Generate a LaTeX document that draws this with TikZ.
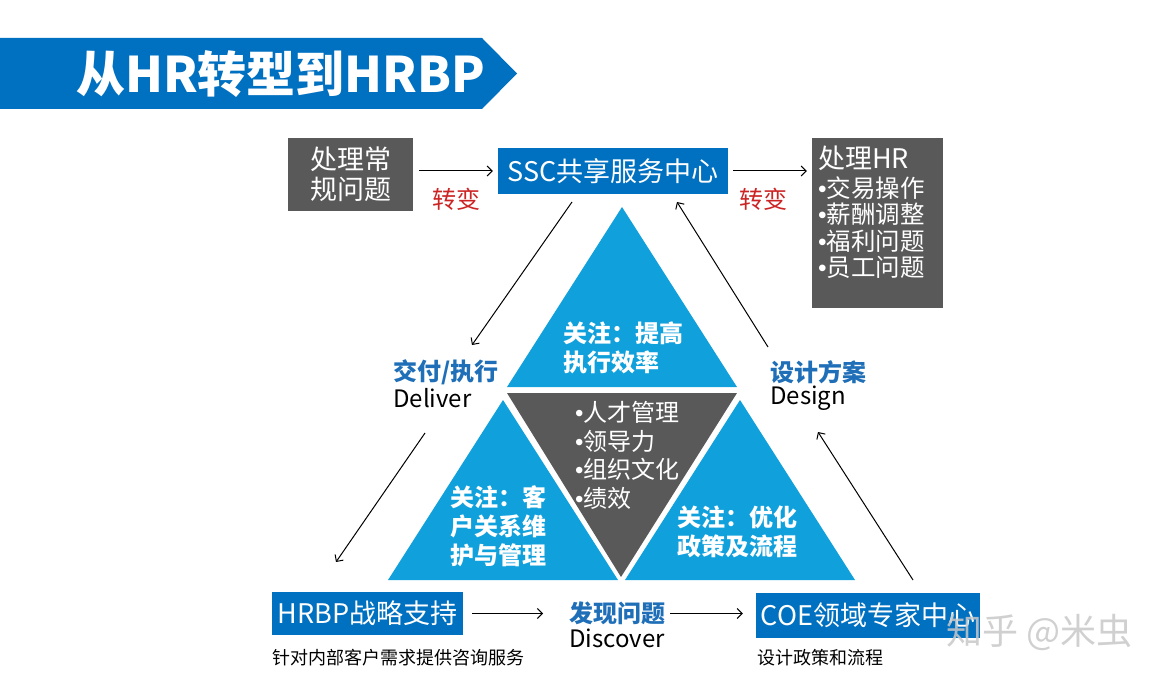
\documentclass[tikz,border=0pt]{standalone}
\usepackage{fontspec}
\setmainfont{Noto Sans CJK SC}
\newfontfamily\bulletfont{Liberation Sans}
\newcommand{\bul}{{\bulletfont •}}
\usetikzlibrary{arrows.meta,positioning,calc}
\definecolor{hrblue}{RGB}{0,112,192}
\definecolor{triblue}{RGB}{16,160,220}
\definecolor{boxgray}{RGB}{89,89,89}
\definecolor{turnred}{RGB}{204,36,36}
\definecolor{tagblue}{RGB}{31,111,184}
\definecolor{markgray}{RGB}{200,200,200}

\tikzset{
  flow/.style={-{Straight Barb[length=5pt,width=10pt]}, black, line width=1pt},
  bluebox/.style={fill=hrblue, text=white, inner sep=0pt, font=\fontsize{27}{30}\selectfont},
  graybox/.style={fill=boxgray, text=white, inner sep=0pt, font=\fontsize{27}{30}\selectfont},
  tritext/.style={anchor=west, align=left, text=white, inner sep=0pt, font=\fontsize{24}{29}\selectfont\bfseries},
  tag/.style={anchor=west, inner sep=0pt, text=tagblue, font=\fontsize{24}{26}\selectfont\bfseries},
  entext/.style={anchor=west, inner sep=0pt, text=black, font=\fontsize{24}{26}\selectfont},
  turn/.style={inner sep=0pt, text=turnred, font=\fontsize{24}{26}\selectfont},
  note/.style={anchor=west, inner sep=0pt, text=black, font=\fontsize{18}{20}\selectfont}
}

\begin{document}
\begin{tikzpicture}[x=1pt, y=-1pt]
  \useasboundingbox (0,0) rectangle (1161,684);

  % Title banner
  \fill[hrblue] (0,38) -- (482,38) -- (517,73.5) -- (482,109) -- (0,109) -- cycle;
  \node[anchor=west, inner sep=0pt, text=white, font=\fontsize{49}{55}\selectfont\bfseries] (title) at (76,74) {从HR转型到HRBP};

  % Pyramid: three blue triangles and the gray core
  \foreach \tx/\ty in {622/207, 503/400, 740/400} {
    \fill[triblue] (\tx,\ty) -- ++(115,180) -- ++(-230,0) -- cycle;
  }
  \fill[boxgray] (507,393) -- (737,393) -- (621,577) -- cycle;

  \node[tritext] (topfocus) at (563,347.5) {关注：提高\\执行效率};
  \node[tritext] (leftfocus) at (450,526.5) {关注：客\\户关系维\\护与管理};
  \node[tritext] (rightfocus) at (677,531.5) {关注：优化\\政策及流程};
  \node[anchor=west, align=left, inner sep=0pt, text=white, font=\fontsize{24}{28.5}\selectfont] (core) at (575,455.5)
    {\bul 人才管理\\\bul 领导力\\\bul 组织文化\\\bul 绩效};

  % Top row
  \node[graybox, minimum width=125pt, minimum height=73pt, align=center] (routine) at (350.5,174.5) {处理常\\规问题};
  \node[bluebox, minimum width=230pt, minimum height=46pt] (ssc) at (613,171) {SSC共享服务中心};
  \node[graybox, minimum width=131pt, minimum height=170pt] (hrwork) at (877.5,223) {};
  \node[anchor=north west, align=left, inner sep=0pt, text=white, font=\fontsize{24.5}{26.5}\selectfont]
    (hrlist) at ([xshift=6pt, yshift=-8pt]hrwork.north west)
    {{\fontsize{27}{30}\selectfont 处理HR}\\[2pt]\bul 交易操作\\\bul 薪酬调整\\\bul 福利问题\\\bul 员工问题};

  \draw[flow, shorten <=6pt, shorten >=5pt] (routine.east |- ssc) -- (ssc.west);
  \draw[flow, shorten <=5pt, shorten >=5pt] (ssc.east) -- (ssc.east -| hrwork.west);
  \node[turn] (turnL) at (456,199) {转变};
  \node[turn] (turnR) at (763,199) {转变};

  % Side labels
  \node[tag] (deliverCn) at (393,372) {交付/执行};
  \node[entext] (deliverEn) at (393,398) {Deliver};
  \node[tag] (designCn) at (770,372) {设计方案};
  \node[entext] (designEn) at (770,398) {Design};

  % Bottom row
  \node[bluebox, minimum width=191pt, minimum height=43pt] (hrbp) at (367.5,613.5) {HRBP战略支持};
  \node[bluebox, minimum width=224pt, minimum height=45pt] (coe) at (868,615.5) {COE领域专家中心};
  \node[tag] (discoverCn) at (569,613.5) {发现问题};
  \node[entext] (discoverEn) at (569,638) {Discover};
  \node[note] (hrbpnote) at (272,658) {针对内部客户需求提供咨询服务};
  \node[note] (coenote) at (757,658) {设计政策和流程};

  \draw[flow, shorten <=9pt, shorten >=26pt] (hrbp.east) -- (hrbp.east -| discoverCn.west);
  \draw[flow, shorten <=5pt, shorten >=13pt] (discoverCn.east) -- (discoverCn.east -| coe.west);

  % Cycle arrows round the pyramid
  \coordinate (sscL) at (572,202);
  \coordinate (deliverTop) at (472,345);
  \coordinate (deliverBot) at (425,433);
  \coordinate (hrbpTop) at (336,562);
  \coordinate (coeTop) at (913,580);
  \coordinate (designBot) at (818,432);
  \coordinate (designTop) at (768,347);
  \coordinate (sscR) at (677,202);
  \draw[flow] (sscL) -- (deliverTop);
  \draw[flow] (deliverBot) -- (hrbpTop);
  \draw[flow] (coeTop) -- (designBot);
  \draw[flow] (designTop) -- (sscR);

  % Watermark
  \node[anchor=west, inner sep=0pt, text=markgray, opacity=0.85, font=\fontsize{36}{38}\selectfont] (mark) at (946,632) {知乎 @米虫};
\end{tikzpicture}
\end{document}
